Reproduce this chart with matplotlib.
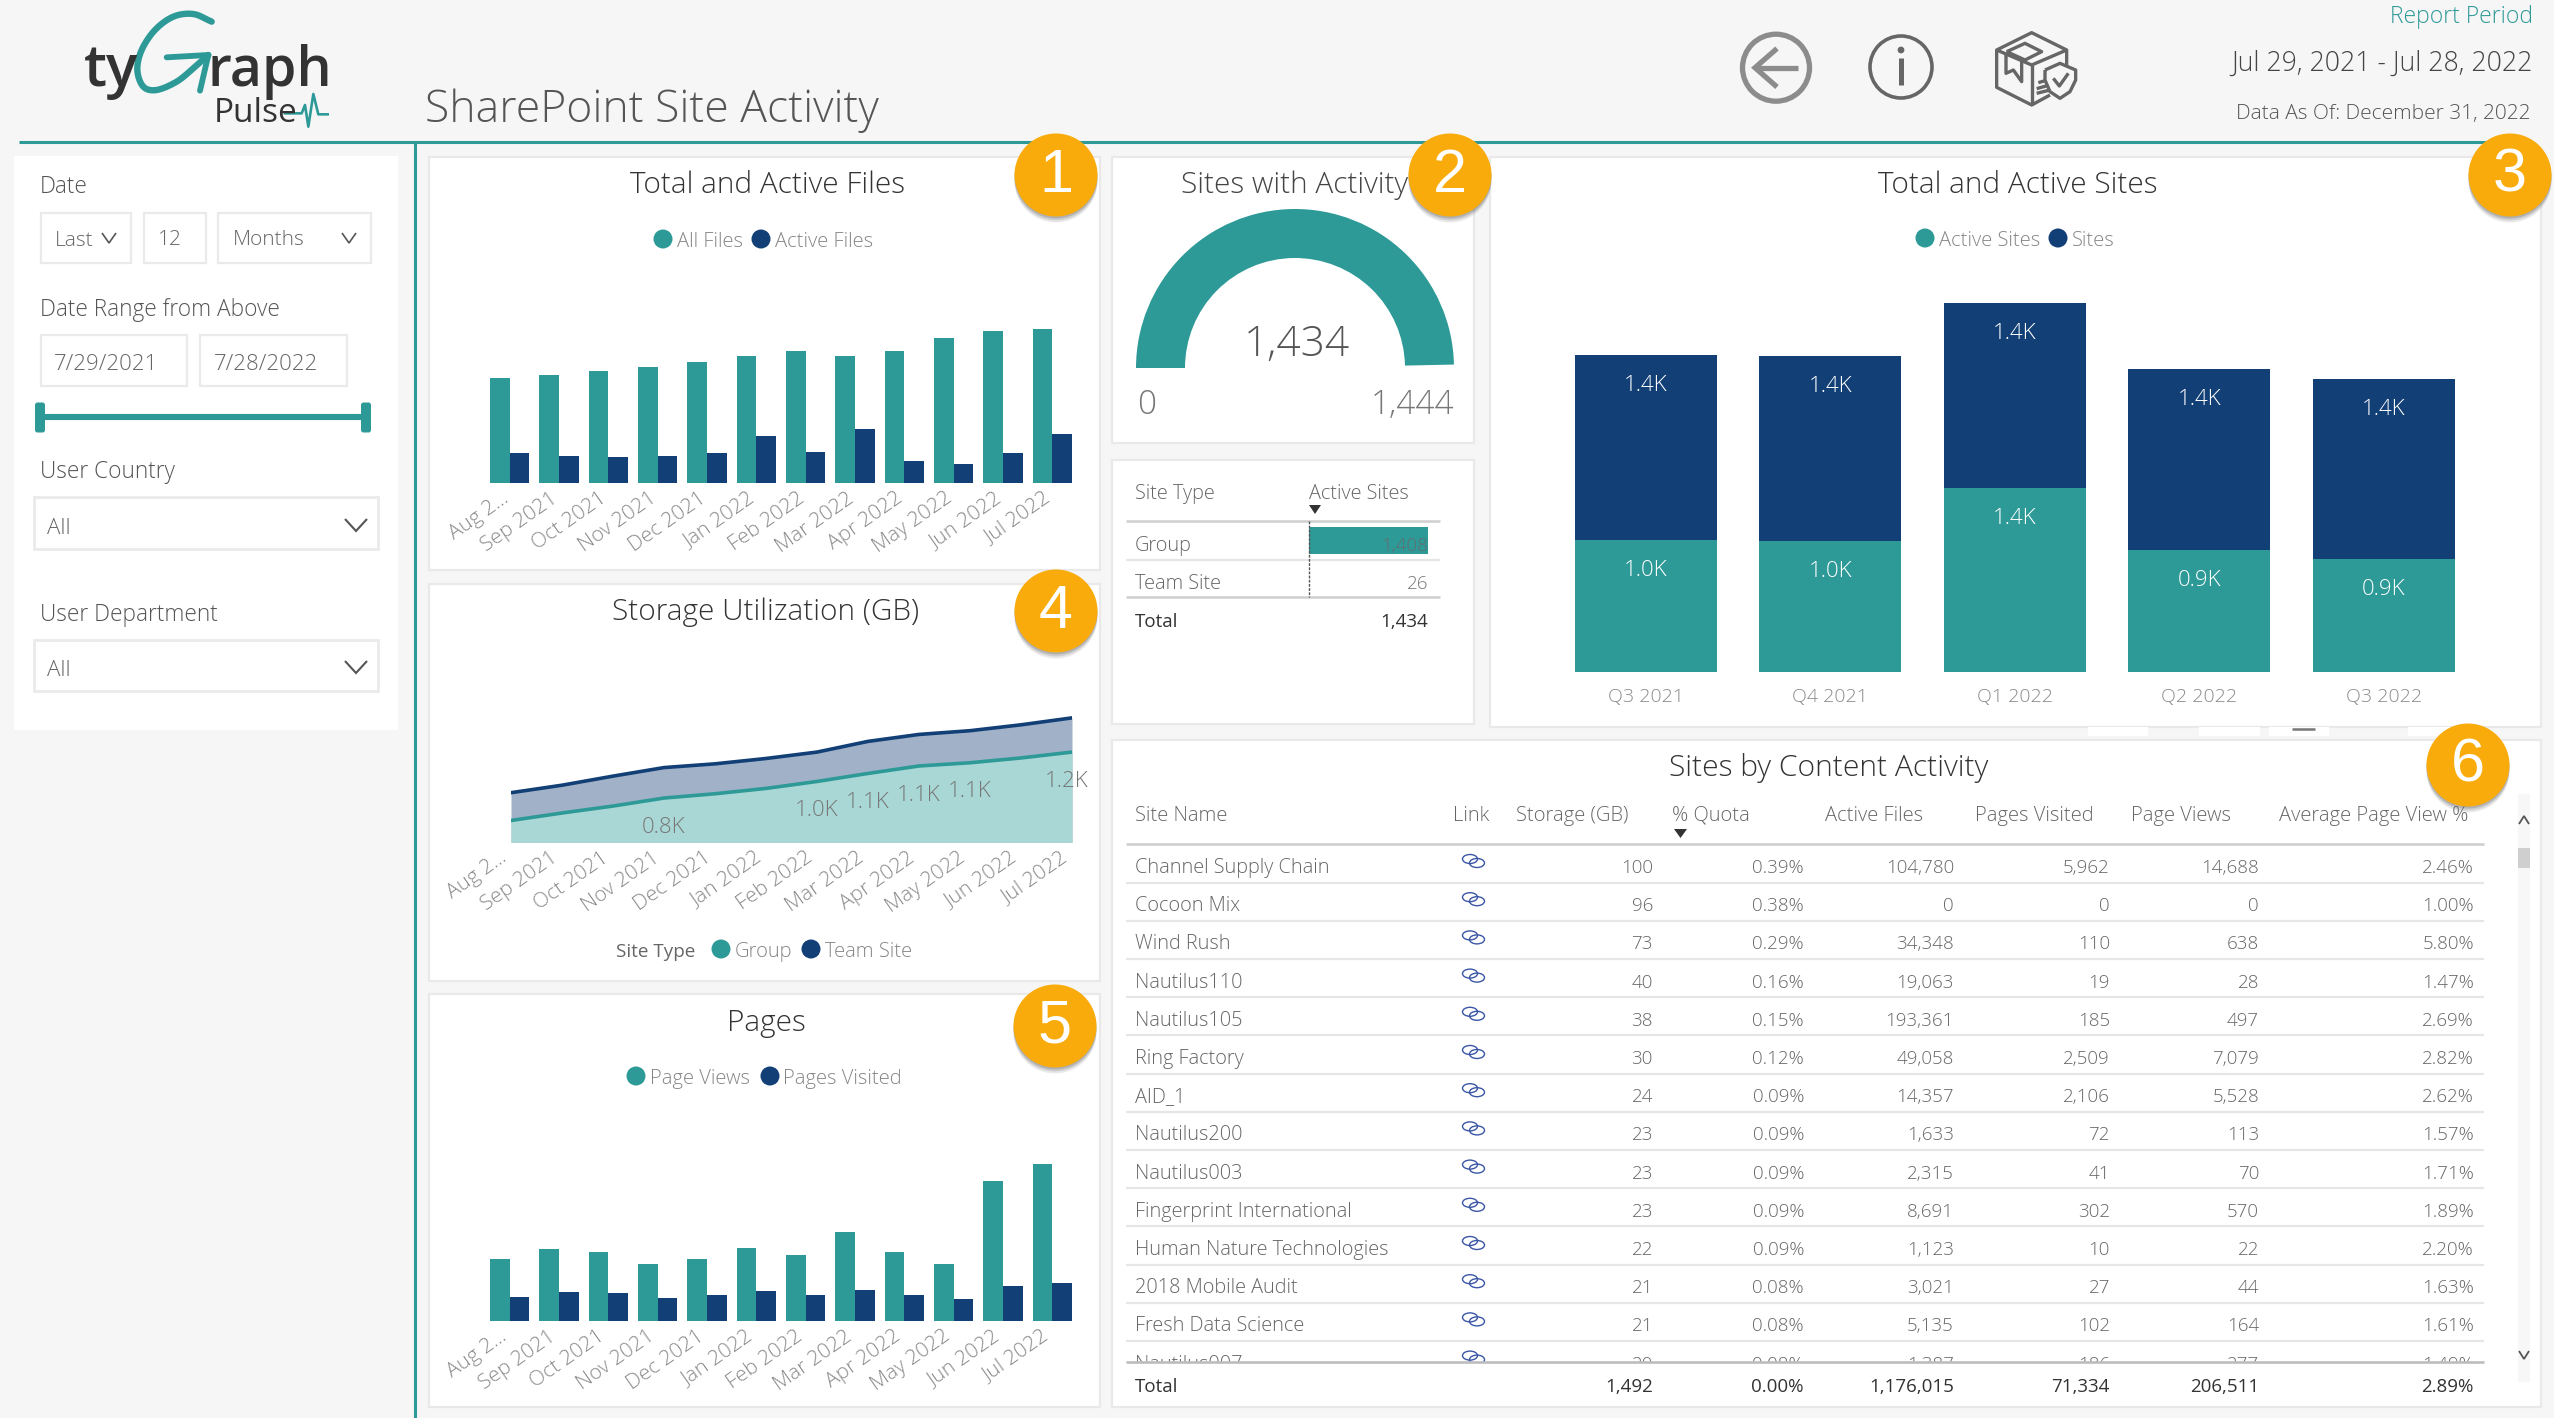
import numpy as np
import matplotlib
matplotlib.use("Agg")
import matplotlib.pyplot as plt
from matplotlib.patches import Rectangle, Circle, Ellipse, Wedge, FancyBboxPatch, Polygon
from matplotlib.transforms import ScaledTranslation

plt.rcParams['font.family'] = ['Open Sans', 'DejaVu Sans']
plt.rcParams['font.weight'] = 'light'

TEAL = '#2E9A98'
NAVY = '#123F75'
ORANGE = '#F9AB0B'
BG = '#F6F6F6'
BORDER = '#E9E9E9'

months = ['Aug 2...', 'Sep 2021', 'Oct 2021', 'Nov 2021', 'Dec 2021', 'Jan 2022',
          'Feb 2022', 'Mar 2022', 'Apr 2022', 'May 2022', 'Jun 2022', 'Jul 2022']
all_files = [228, 235, 245, 253, 263, 276, 287, 276, 287, 315, 332, 335]
active_files_m = [65, 58, 56, 59, 65, 102, 67, 118, 48, 42, 65, 106]
page_views_m = [13300, 15300, 14700, 12100, 13100, 15500, 14000, 18900, 14700, 12100, 29800, 33400]
pages_visited_m = [5200, 6200, 5900, 5000, 5600, 6400, 5500, 6600, 5500, 4700, 7400, 8100]
storage_group = [41, 55, 68, 83, 91, 101, 114, 129, 143, 149, 158, 169]
storage_team = [93, 107, 124, 140, 147, 157, 169, 189, 202, 209, 220, 233]
storage_labels = ['', '', '', '0.8K', '', '', '1.0K', '1.1K', '1.1K', '1.1K', '', '1.2K']

quarters = ['Q3 2021', 'Q4 2021', 'Q1 2022', 'Q2 2022', 'Q3 2022']
active_sites_q = [1029, 1021, 1434, 949, 881]
sites_q = [1449, 1446, 1445, 1420, 1405]

gauge_value = 1434
gauge_max = 1444
site_types = ['Group', 'Team Site']
site_type_active = [1408, 26]
site_type_total = 1434

site_names = ['Channel Supply Chain', 'Cocoon Mix', 'Wind Rush', 'Nautilus110', 'Nautilus105',
              'Ring Factory', 'AID_1', 'Nautilus200', 'Nautilus003', 'Fingerprint International',
              'Human Nature Technologies', '2018 Mobile Audit', 'Fresh Data Science', 'Nautilus007']
storage_gb = [100, 96, 73, 40, 38, 30, 24, 23, 23, 23, 22, 21, 21, 20]
pct_quota = [0.39, 0.38, 0.29, 0.16, 0.15, 0.12, 0.09, 0.09, 0.09, 0.09, 0.09, 0.08, 0.08, 0.08]
active_files = [104780, 0, 34348, 19063, 193361, 49058, 14357, 1633, 2315, 8691, 1123, 3021, 5135, 1387]
pages_visited = [5962, 0, 110, 19, 185, 2509, 2106, 72, 41, 302, 10, 27, 102, 186]
page_views = [14688, 0, 638, 28, 497, 7079, 5528, 113, 70, 570, 22, 44, 164, 277]
avg_page_view = [2.46, 1.00, 5.80, 1.47, 2.69, 2.82, 2.62, 1.57, 1.71, 1.89, 2.20, 1.63, 1.61, 1.49]
table_headers = ['Site Name', 'Link', 'Storage (GB)', '% Quota', 'Active Files', 'Pages Visited', 'Page Views', 'Average Page View %']
table_totals = ['1,492', '0.00%', '1,176,015', '71,334', '206,511', '2.89%']

W, H = 2554, 1418
fig = plt.figure(figsize=(W / 100, H / 100), dpi=100, facecolor=BG)


def overlay(z):
    a = fig.add_axes([0, 0, 1, 1], zorder=z)
    a.set_xlim(0, W)
    a.set_ylim(H, 0)
    a.axis('off')
    a.patch.set_alpha(0)
    return a


bg = overlay(0)
fg = overlay(5)


def panel(x0, y0, x1, y1, a=bg):
    a.add_patch(Rectangle((x0, y0), x1 - x0, y1 - y0, fc='white', ec=BORDER, lw=1.6))


def T(x, y, s, size=13, color='#555555', ha='left', va='center', a=fg, dy=3, **kw):
    a.text(x, y + dy, s, fontsize=size, color=color, ha=ha, va=va, **kw)


def L(xs, ys, color='#666666', lw=2, a=fg, **kw):
    kw.setdefault('solid_capstyle', 'butt')
    kw.setdefault('solid_joinstyle', 'miter')
    a.plot(xs, ys, color=color, lw=lw, **kw)


def child(x0, x1, ytop, ybase):
    a = fig.add_axes([x0 / W, 1 - ybase / H, (x1 - x0) / W, (ybase - ytop) / H], zorder=2)
    a.patch.set_alpha(0)
    for sp in a.spines.values():
        sp.set_visible(False)
    a.set_yticks([])
    a.tick_params(axis='x', length=0)
    return a


def month_ticks(a, pad, shift_px):
    a.set_xticks(range(12))
    a.set_xticklabels(months, rotation=35, ha='right', va='top', rotation_mode='anchor',
                      fontsize=15, color='#8A8A8A')
    a.tick_params(axis='x', pad=pad)
    off = ScaledTranslation(shift_px / fig.dpi, 0, fig.dpi_scale_trans)
    for lab in a.get_xticklabels():
        lab.set_transform(lab.get_transform() + off)


def legend(y, items, size=14.5):
    for cx, tx, col, label in items:
        fg.add_patch(Circle((cx, y), 9.5, fc=col, ec='none'))
        T(tx, y, label, size=size, color='#858585')


# ---------- frame ----------
L([19, 2530], [142, 142], color=TEAL, lw=2.2, a=bg)
L([415, 415], [142, 1418], color=TEAL, lw=2.2, a=bg)
bg.add_patch(Rectangle((14, 156), 384, 574, fc='white', ec='none'))
panel(429, 157, 1100, 570)
panel(429, 584, 1100, 981)
panel(429, 994, 1100, 1407)
panel(1112, 157, 1474, 443)
panel(1112, 460, 1474, 724)
panel(1490, 157, 2541, 727)
panel(1112, 740, 2541, 1407)
for x0, x1 in [(2088, 2148), (2199, 2260), (2269, 2329), (2408, 2464)]:
    bg.add_patch(Rectangle((x0, 727), x1 - x0, 9, fc='white', ec='none'))
L([2292, 2315], [729, 729], color='#777777', lw=1.8, a=bg)

# ---------- header ----------
T(425, 108, 'SharePoint Site Activity', size=32, color='#555555')
T(2533, 14, 'Report Period', size=16.5, color=TEAL, ha='right')
T(2533, 61, 'Jul 29, 2021 - Jul 28, 2022', size=19.2, color='#444444', ha='right')
T(2530, 111, 'Data As Of: December 31, 2022', size=15, color='#555555', ha='right')

# logo
T(84, 86, 'ty', size=42, color='#333333', va='baseline', weight='semibold', dy=0)
T(207, 86, 'raph', size=40, color='#333333', va='baseline', weight='semibold', dy=0)
T(214, 122, 'Pulse', size=24, color='#333333', va='baseline', weight='normal', dy=0)


def smooth(pts, n=14):
    p = np.array(pts, float)
    p = np.vstack([2 * p[0] - p[1], p, 2 * p[-1] - p[-2]])
    out = []
    for i in range(1, len(p) - 2):
        for t in np.linspace(0, 1, n, endpoint=False):
            out.append(0.5 * ((2 * p[i]) + (-p[i - 1] + p[i + 1]) * t
                              + (2 * p[i - 1] - 5 * p[i] + 4 * p[i + 1] - p[i + 2]) * t ** 2
                              + (-p[i - 1] + 3 * p[i] - 3 * p[i + 1] + p[i + 2]) * t ** 3))
    out.append(p[-2])
    return np.array(out)


def lg(pts):
    return [(60 + x / 3, y / 3) for x, y in pts]


g = smooth(lg([(455, 65), (400, 42), (340, 50), (285, 90), (245, 150), (232, 210), (250, 260),
               (290, 270), (350, 245), (400, 205), (445, 165)]))
fg.plot(g[:, 0], g[:, 1], color=TEAL, lw=4.6, solid_capstyle='round')
s = np.array(lg([(320, 172), (445, 165), (420, 272)]))
fg.plot(s[:, 0], s[:, 1], color=TEAL, lw=4.2, solid_capstyle='round', solid_joinstyle='round')
w = np.array(lg([(675, 340), (725, 340), (735, 315), (745, 380), (760, 282), (775, 343), (803, 343)]))
fg.plot(w[:, 0], w[:, 1], color=TEAL, lw=1.9)

# icons
fg.add_patch(Circle((1776, 67.7), 33.5, fc='none', ec='#8C8C8C', lw=3.8))
L([1755, 1798], [67.7, 67.7], color='#8C8C8C', lw=3.8)
L([1777, 1755, 1777], [48.5, 67.7, 87], color='#8C8C8C', lw=3.8)
fg.add_patch(Circle((1901, 67), 31, fc='none', ec='#666666', lw=2.6))
fg.add_patch(Circle((1901, 50), 3.4, fc='#666666', ec='none'))
L([1901, 1901], [58, 85], color='#666666', lw=3.6)


def bx(pts):
    a = np.array(pts, float)
    return 1720 + a[:, 0] / 3, 10 + a[:, 1] / 3


for pts in [
    [(1040, 170), (1040, 120), (935, 68), (830, 120), (830, 232), (935, 285), (990, 255)],
    [(830, 120), (935, 165), (1040, 120)],
    [(935, 165), (935, 285)],
    [(860, 125), (915, 100), (965, 125), (915, 150), (860, 125)],
    [(858, 135), (858, 190), (880, 180), (905, 215), (905, 155)],
    [(975, 180), (1020, 160), (1067, 180), (1067, 210), (1050, 245), (1020, 265), (990, 245), (975, 210), (975, 180)],
    [(1000, 205), (1018, 228), (1045, 190)],
    [(955, 218), (975, 212)],
    [(950, 236), (985, 226)],
    [(950, 250), (990, 240)],
]:
    xs, ys = bx(pts)
    L(xs, ys, color='#666666', lw=2.4, solid_joinstyle='round')

# ---------- left slicers ----------


def box(x0, y0, x1, y1, lw=1.6):
    bg.add_patch(Rectangle((x0, y0), x1 - x0, y1 - y0, fc='white', ec='#EAEAEA', lw=lw))


def chevron(cx, cy, wd=7, ht=5, lw=1.2):
    L([cx - wd, cx, cx + wd], [cy - ht, cy + ht, cy - ht], color='#555555', lw=lw)


LBL = '#555555'
T(40, 184, 'Date', size=16.3, color=LBL)
box(41, 213, 131, 263)
T(55, 238, 'Last', size=15, color='#666666')
chevron(109, 238)
box(144, 213, 206, 263)
T(158, 237, '12', size=15, color='#666666')
box(218, 213, 371, 263)
T(233, 237, 'Months', size=15, color='#666666')
chevron(349, 238)
T(40, 307, 'Date Range from Above', size=16.3, color=LBL)
box(41, 335, 187, 386)
T(54, 362, '7/29/2021', size=16, color='#666666')
box(200, 335, 347, 386)
T(214, 362, '7/28/2022', size=16, color='#666666')
L([40, 366], [417, 417], color=TEAL, lw=4.4)
for hx in (40, 366):
    fg.add_patch(FancyBboxPatch((hx - 2.5, 405), 5, 25, boxstyle='round,pad=2.5', fc=TEAL, ec='none'))
T(40, 469, 'User Country', size=16.3, color=LBL)
box(34, 497, 378, 549, lw=2)
T(47, 526, 'All', size=16, color='#666666')
chevron(356, 525, wd=11, ht=6, lw=1.5)
T(40, 612, 'User Department', size=16.3, color=LBL)
box(34, 640, 378, 691, lw=2)
T(47, 668, 'All', size=16, color='#666666')
chevron(356, 667, wd=11, ht=6, lw=1.5)

# ---------- chart 1 ----------
T(767, 182, 'Total and Active Files', size=21.4, color='#333333', ha='center', a=fg)
legend(239, [(663, 677, TEAL, 'All Files'), (761, 775, NAVY, 'Active Files')])
ax1 = child(485, 1077, 300, 483)
xx = np.arange(12)
ax1.bar(xx - 0.2, all_files, 0.4, color=TEAL)
ax1.bar(xx + 0.2, active_files_m, 0.4, color=NAVY)
ax1.set_xlim(-0.5, 11.5)
ax1.set_ylim(0, 183 * 2.178)
month_ticks(ax1, 4, -9)

# ---------- chart 4 ----------
T(766, 609, 'Storage Utilization (GB)', size=21.4, color='#333333', ha='center')
T(616, 949, 'Site Type', size=13.6, color='#666666', weight='normal')
legend(949, [(721, 735, TEAL, 'Group'), (811, 825, NAVY, 'Team Site')])
ax4 = child(511, 1072, 680, 842.4)
ax4.fill_between(xx, storage_team, color='#A0B1C8', lw=0)
ax4.fill_between(xx, storage_group, color='#A9D7D5', lw=0)
ax4.plot(xx, storage_team, color=NAVY, lw=2.6, solid_capstyle='round')
ax4.plot(xx, storage_group, color=TEAL, lw=2.6, solid_capstyle='round')
for i, lab in enumerate(storage_labels):
    if lab:
        ax4.annotate(lab, (i, storage_group[i]), xytext=(-4 if i == 11 else 0, -21),
                     textcoords='offset points', ha='center', va='center',
                     fontsize=16, color='#777777', annotation_clip=False)
ax4.set_xlim(0, 11)
ax4.set_ylim(0, 162.4 * 1.871)
month_ticks(ax4, 4, -12)

# ---------- chart 5 ----------
T(766, 1020, 'Pages', size=21.4, color='#333333', ha='center')
legend(1076, [(636, 650, TEAL, 'Page Views'), (770, 783, NAVY, 'Pages Visited')])
ax5 = child(485, 1077, 1120, 1321)
ax5.bar(xx - 0.2, page_views_m, 0.4, color=TEAL)
ax5.bar(xx + 0.2, pages_visited_m, 0.4, color=NAVY)
ax5.set_xlim(-0.5, 11.5)
ax5.set_ylim(0, 201 * 213)
month_ticks(ax5, 4, -11)

# ---------- gauge ----------
T(1295, 182, 'Sites with Activity', size=21.4, color='#444444', ha='center')
axg = child(1136, 1454, 209, 368)
axg.set_xticks([])
axg.set_xlim(-159, 159)
axg.set_ylim(0, 159)
axg.add_patch(Wedge((0, 0), 159, 180 * (1 - gauge_value / gauge_max), 180, width=49, fc=TEAL, ec='none'))
axg.patch.set_alpha(0)
T(1297, 342, f'{gauge_value:,}', size=30.5, color='#555555', ha='center')
T(1137, 402, '0', size=24, color='#777777')
T(1454, 402, f'{gauge_max:,}', size=24, color='#777777', ha='right')

# ---------- small table ----------
T(1135, 491, 'Site Type', size=14.3, color='#666666')
T(1309, 491, 'Active Sites', size=14.3, color='#666666')
fg.add_patch(Polygon([(1309, 505), (1321, 505), (1315, 514)], fc='#333333', ec='none'))
for yy, c, lw in [(521, '#CFCFCF', 1.8), (560, '#E6E6E6', 1.6), (597, '#CFCFCF', 1.8)]:
    L([1126, 1440], [yy, yy], color=c, lw=lw, a=bg)
axb = child(1309, 1428, 521, 597)
axb.set_xticks([])
axb.set_xlim(0, max(site_type_active))
axb.set_ylim(1.965, -0.0)
axb.barh([0.5], [site_type_active[0]], height=0.71, color=TEAL)
L([1309, 1309], [521, 597], color='#555555', lw=1, a=fg, linestyle=(0, (2, 1)))
for yy, nm, v, c in zip([543, 581], site_types, site_type_active, ['#5F6F6F', '#777777']):
    T(1135, yy, nm, size=14.3, color='#666666')
    T(1428, yy, f'{v:,}', size=13.5, color=c, ha='right')
T(1135, 619, 'Total', size=13.5, color='#333333', weight='normal')
T(1428, 619, f'{site_type_total:,}', size=13.5, color='#333333', ha='right', weight='normal')

# ---------- chart 3 ----------
T(2018, 182, 'Total and Active Sites', size=21.4, color='#333333', ha='center')
legend(238, [(1925, 1939, TEAL, 'Active Sites'), (2058, 2072, NAVY, 'Sites')])
ax3 = child(1553.5, 2476, 280, 671.6)
qx = np.arange(5)
ax3.bar(qx, active_sites_q, 0.77, color=TEAL)
ax3.bar(qx, sites_q, 0.77, bottom=active_sites_q, color=NAVY)
for i in qx:
    ax3.annotate(f'{active_sites_q[i] / 1000:.1f}K', (i, active_sites_q[i]), xytext=(0, -22),
                 textcoords='offset points', ha='center', va='center', color='white', fontsize=16)
    ax3.annotate(f'{sites_q[i] / 1000:.1f}K', (i, active_sites_q[i] + sites_q[i]), xytext=(0, -22),
                 textcoords='offset points', ha='center', va='center', color='white', fontsize=16)
ax3.set_xlim(-0.5, 4.5)
ax3.set_ylim(0, 391.6 * 7.82)
ax3.set_xticks(qx)
ax3.set_xticklabels(quarters, fontsize=14, color='#8A8A8A')
ax3.tick_params(axis='x', pad=12)

# ---------- big table ----------
T(1829, 765, 'Sites by Content Activity', size=21.6, color='#333333', ha='center')
head_x = [1135, 1453, 1516, 1672, 1825, 1975, 2131, 2279]
for hx, h in zip(head_x, table_headers):
    T(hx, 813, h, size=14.5, color='#666666')
fg.add_patch(Polygon([(1674, 829), (1687, 829), (1680.5, 838)], fc='#333333', ec='none'))
L([1126, 2484], [844, 844], color='#CFCFCF', lw=1.9, a=bg)
R = [1653, 1804, 1954, 2110, 2259, 2474]
row_y0, row_h = 865, 38.2
tb = overlay(3)
for i, nm in enumerate(site_names):
    y = row_y0 + i * row_h
    T(1135, y, nm, size=14.3, color='#666666', a=tb)
    tb.add_patch(Ellipse((1470, y - 6), 15, 9, fc='none', ec='#3B57A6', lw=1))
    tb.add_patch(Ellipse((1477, y - 2), 15, 9, fc='none', ec='#3B57A6', lw=1))
    vals = [f'{storage_gb[i]:,}', f'{pct_quota[i]:.2f}%', f'{active_files[i]:,}',
            f'{pages_visited[i]:,}', f'{page_views[i]:,}', f'{avg_page_view[i]:.2f}%']
    for rx, v in zip(R, vals):
        T(rx, y, v, size=13.5, color='#666666', ha='right', a=tb)
    if i < 13:
        L([1126, 2484], [y + 17.5, y + 17.5], color='#E6E6E6', lw=1.6, a=bg)
fg.add_patch(Rectangle((1120, 1362), 1390, 40, fc='white', ec='none'))
L([1126, 2484], [1362, 1362], color='#BDBDBD', lw=1.9)
T(1135, 1384, 'Total', size=13.5, color='#333333', weight='normal')
for rx, v in zip(R, table_totals):
    T(rx, 1384, v, size=13.5, color='#333333', ha='right', weight='normal')
fg.add_patch(Rectangle((2518, 794), 12, 588, fc='#F7F7F7', ec='none'))
fg.add_patch(Rectangle((2518, 848), 12, 20, fc='#CFCFCF', ec='none'))
chevron(2524, 820, wd=5, ht=-4, lw=1.3)
chevron(2524, 1355, wd=5, ht=4, lw=1.3)

# ---------- badges ----------
for cx, cy, txt in [(1056, 175, '1'), (1450, 175, '2'), (2510, 175, '3'),
                    (1056, 611, '4'), (1055, 1026, '5'), (2468, 765, '6')]:
    for k, alpha in [(6, 0.12), (4, 0.18), (2, 0.25)]:
        fg.add_patch(Circle((cx, cy + k), 41.5, fc='#555555', ec='none', alpha=alpha))
    fg.add_patch(Circle((cx, cy), 41.5, fc=ORANGE, ec='none'))
    T(cx, cy + 1, txt, size=44, color='white', ha='center', family=['Liberation Sans'], weight='normal', dy=0)

fig.savefig('out.png', dpi=100, facecolor=BG)
